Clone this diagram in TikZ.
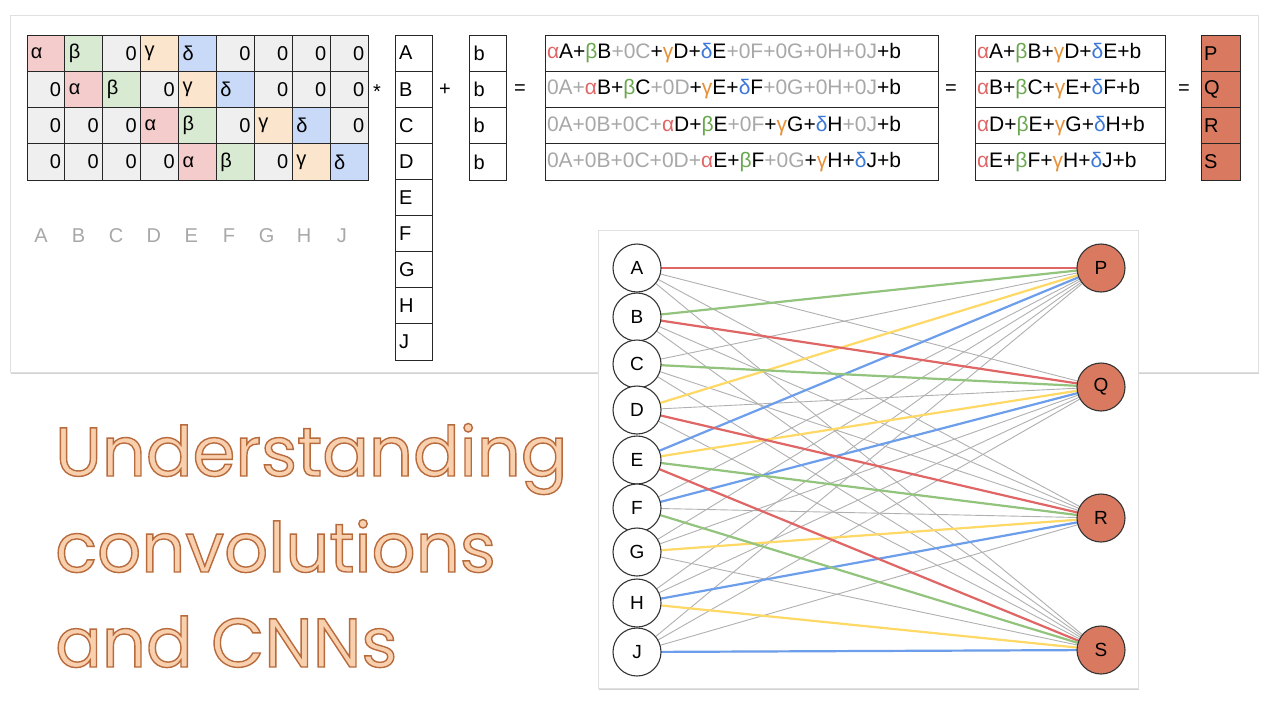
\documentclass[tikz,border=0pt]{standalone}
\usepackage{fontspec}
\setmainfont{Liberation Sans}
\newfontfamily\titlefont{Poppins}
\usetikzlibrary{shadows}
\definecolor{cr}{HTML}{E06666}
\definecolor{cg}{HTML}{6AA84F}
\definecolor{cy}{HTML}{E69138}
\definecolor{cb}{HTML}{3C78D8}
\definecolor{fr}{HTML}{F4CCCC}
\definecolor{fg}{HTML}{D9EAD3}
\definecolor{fy}{HTML}{FCE5CD}
\definecolor{fb}{HTML}{C9DAF8}
\definecolor{fz}{HTML}{EFEFEF}
\definecolor{gz}{HTML}{A8A8A8}
\definecolor{er}{HTML}{E06666}
\definecolor{eg}{HTML}{93C47D}
\definecolor{ey}{HTML}{FFD966}
\definecolor{eb}{HTML}{6D9EEB}
\definecolor{egr}{HTML}{B0B0B0}
\definecolor{outc}{HTML}{D97A60}
\definecolor{peach}{HTML}{F8D0AE}
\tikzset{
 panel/.style={fill=white,draw=black!12,drop shadow={shadow xshift=1pt,shadow yshift=-2pt,opacity=0.35}},
 cell/.style={draw=black!85,line width=0.9pt,minimum width=37.9pt,minimum height=36.25pt,inner sep=3pt,font=\fontsize{20}{20}\selectfont},
 vcell/.style={draw=black!85,line width=0.9pt,minimum width=37pt,minimum height=36.1pt,inner sep=0pt,text depth=0pt,font=\fontsize{20}{20}\selectfont},
 eqbox/.style={draw=black!85,line width=0.9pt,minimum height=36.25pt,inner sep=4pt,font=\fontsize{21}{21}\selectfont},
 op/.style={font=\fontsize{20}{20}\selectfont},
 inn/.style={circle,draw=black!80,line width=1.1pt,fill=white,minimum size=48pt,inner sep=0pt,font=\fontsize{19}{19}\selectfont},
 outn/.style={circle,draw=black!80,line width=1.1pt,fill=outc,minimum size=48pt,inner sep=0pt,font=\fontsize{19}{19}\selectfont},
 edge/.style={line width=0.9pt,draw=egr},
 cedge/.style={line width=2.2pt},
 ttl/.style={anchor=base west,inner sep=0pt,text=peach,font=\titlefont\fontsize{69}{69}\selectfont}
}
\newcommand\za[1]{\textcolor{gz}{#1}}
\newcommand\ga{\textcolor{cr}{α}}
\newcommand\gb{\textcolor{cg}{β}}
\newcommand\gc{\textcolor{cy}{γ}}
\newcommand\gd{\textcolor{cb}{δ}}
\newcommand\outl[1]{\special{pdf:literal direct 2 Tr 1.4 w 0.72 0.42 0.24 RG}#1\special{pdf:literal direct 0 Tr}}
\begin{document}
\begin{tikzpicture}[x=1pt,y=-1pt]
\useasboundingbox (0,0) rectangle (1280,720);
\fill[white] (0,0) rectangle (1280,720);
\node[panel,minimum width=1248pt,minimum height=357pt,anchor=north west,inner sep=0pt] (top) at (10,15) {};
% matrix
\foreach \r/\row in {1/{a,b,0,c,d,0,0,0,0},2/{0,a,b,0,c,d,0,0,0},3/{0,0,0,a,b,0,c,d,0},4/{0,0,0,0,a,b,0,c,d}}{
 \foreach \v [count=\c] in \row {
  \pgfmathsetmacro\xx{27+37.9*(\c-0.5)}
  \pgfmathsetmacro\yy{35+36.25*(\r-0.5)}
  \if a\v \node[cell,fill=fr,text width=30pt,align=left] (m\r\c) at (\xx,\yy) {α};\fi
  \if b\v \node[cell,fill=fg,text width=30pt,align=left] (m\r\c) at (\xx,\yy) {β};\fi
  \if c\v \node[cell,fill=fy,text width=30pt,align=left] (m\r\c) at (\xx,\yy) {γ};\fi
  \if d\v \node[cell,fill=fb,text width=30pt,align=left] (m\r\c) at (\xx,\yy) {δ};\fi
  \if 0\v \node[cell,fill=fz,text width=30pt,align=right] (m\r\c) at (\xx,\yy) {0};\fi
 }}
\foreach \l [count=\i] in {A,B,C,D,E,F,G,H,J}{
 \node[op,text=gz] (lab\i) at (41+37.6*\i-37.6,236) {\l};
 \node[vcell,text width=29pt,align=left] (v\i) at (413.5,35+36.1*\i-18) {\l};
}
\foreach \i in {1,...,4}{
 \node[vcell,text width=29pt,align=left] (bb\i) at (488,35+36.25*\i-18.1) {b};
}
\node[op] (star) at (377,92) {*};
\node[op] (plus) at (445,90) {+};
\node[op] (eq1) at (520,90) {=};
\node[op] (eq2) at (951,90) {=};
\node[op] (eq3) at (1184,90) {=};
\foreach \i/\t in {
 1/{\ga A+\gb B\za{+0C}+\gc D+\gd E\za{+0F+0G+0H+0J}+b},
 2/{\za{0A+}\ga B+\gb C\za{+0D}+\gc E+\gd F\za{+0G+0H+0J}+b},
 3/{\za{0A+0B+0C+}\ga D+\gb E\za{+0F}+\gc G+\gd H\za{+0J}+b},
 4/{\za{0A+0B+0C+0D+}\ga E+\gb F\za{+0G}+\gc H+\gd J+b}}{
 \node[eqbox,minimum width=393pt,text width=389pt,align=left,inner sep=2pt] (e\i) at (741.5,35+36.25*\i-18.1) {\t};
}
\foreach \i/\t in {1/{\ga A+\gb B+\gc D+\gd E+b},2/{\ga B+\gb C+\gc E+\gd F+b},3/{\ga D+\gb E+\gc G+\gd H+b},4/{\ga E+\gb F+\gc H+\gd J+b}}{
 \node[eqbox,minimum width=190pt,text width=186pt,align=left,inner sep=2pt] (s\i) at (1070,35+36.25*\i-18.1) {\t};
}
\foreach \l [count=\i] in {P,Q,R,S}{
 \node[eqbox,fill=outc,minimum width=39pt,text width=33pt,align=left,inner sep=3pt,font=\fontsize{20}{20}\selectfont] (o\i) at (1220.5,35+36.25*\i-18.1) {\l};
}
% graph panel
\node[panel,minimum width=540pt,minimum height=458pt,anchor=north west,inner sep=0pt] (gp) at (598,230) {};
\foreach \l/\y [count=\i] in {A/268,B/317,C/364,D/410,E/460,F/508,G/552,H/603,J/652}{
 \coordinate (ci\i) at (637,\y);
}
\foreach \l/\y [count=\i] in {P/268,Q/387,R/518,S/650}{
 \coordinate (co\i) at (1101,\y);
}
\foreach \i in {1,...,9}{\foreach \j in {1,...,4}{\draw[edge] (ci\i) -- (co\j);}}
\foreach \a/\b/\c in {1/1/er,2/1/eg,4/1/ey,5/1/eb,2/2/er,3/2/eg,5/2/ey,6/2/eb,4/3/er,5/3/eg,7/3/ey,8/3/eb,5/4/er,6/4/eg,8/4/ey,9/4/eb}{
 \draw[cedge,draw=\c] (ci\a) -- (co\b);
}
\foreach \l [count=\i] in {A,B,C,D,E,F,G,H,J}{\node[inn] (in\i) at (ci\i) {\l};}
\foreach \l [count=\i] in {P,Q,R,S}{\node[outn] (out\i) at (co\i) {\l};}
% title
\node[ttl] (t1) at (55,476) {\outl{Understanding}};
\node[ttl] (t2) at (55,572) {\outl{convolutions}};
\node[ttl] (t3) at (55,667) {\outl{and CNNs}};
\end{tikzpicture}
\end{document}
